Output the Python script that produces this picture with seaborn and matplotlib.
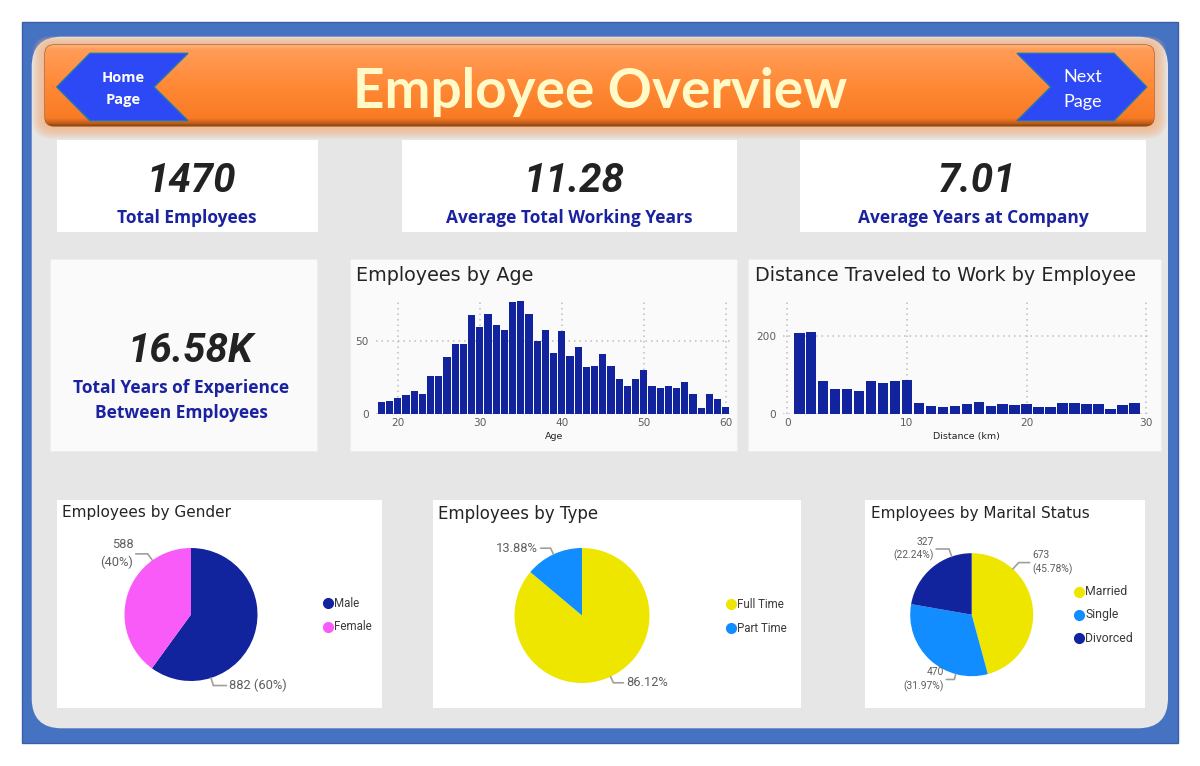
import numpy as np
import matplotlib
matplotlib.use("Agg")
import matplotlib.pyplot as plt
import seaborn as sns
from matplotlib.patches import FancyBboxPatch, Rectangle, Polygon
from matplotlib.colors import LinearSegmentedColormap

# ---------------- data ----------------
TITLE = "Employee Overview"
KPI_VALUES = ["1470", "11.28", "7.01", "16.58K"]
KPI_LABELS = ["Total Employees", "Average Total Working Years",
              "Average Years at Company",
              "Total Years of Experience\nBetween Employees"]

AGES = list(range(18, 61))
AGE_COUNTS = [8, 9, 11, 13, 16, 14, 26, 26, 39, 48, 48, 68, 60, 69, 61, 58,
              77, 78, 69, 50, 58, 42, 57, 40, 46, 32, 33, 41, 33, 24, 19, 24,
              30, 19, 18, 19, 18, 22, 14, 4, 14, 10, 5]
AGE_TICKS = [20, 30, 40, 50, 60]
AGE_YTICKS = [0, 50]

DISTANCES = list(range(1, 30))
DISTANCE_COUNTS = [208, 211, 84, 64, 65, 59, 84, 80, 85, 86, 29, 20, 19, 21,
                   26, 32, 20, 26, 22, 25, 18, 19, 27, 28, 25, 25, 12, 23, 27]
DIST_TICKS = [0, 10, 20, 30]
DIST_YTICKS = [0, 200]

GENDERS = ["Male", "Female"]
GENDER_COUNTS = [882, 588]
TYPES = ["Full Time", "Part Time"]
TYPE_SHARES = [86.12, 13.88]
MARITAL = ["Married", "Single", "Divorced"]
MARITAL_COUNTS = [673, 470, 327]

# ---------------- style ----------------
NAVY = "#12239E"
MAGENTA = "#F95BF8"
YELLOW = "#EFE600"
SKY = "#118DFF"
KPI_BLUE = "#1A22A0"
TXT = "#252423"
GRAY_TXT = "#605E5C"

sns.set_theme(style="white")
plt.rcParams["font.family"] = ["DejaVu Sans"]

W, H = 1200, 766
fig = plt.figure(figsize=(12, 7.66), dpi=100, facecolor="white")


def px_axes(x0, y0, x1, y1, **kw):
    return fig.add_axes([x0 / W, 1 - y1 / H, (x1 - x0) / W, (y1 - y0) / H], **kw)


bg = px_axes(0, 0, W, H)
bg.set_xlim(0, W)
bg.set_ylim(H, 0)
bg.axis("off")

# frame
bg.add_patch(Rectangle((21.7, 21.7), 1178 - 21.7, 743.3 - 21.7, fc="#4672C2", ec="#3A5FA8", lw=1, zorder=1))
bg.add_patch(FancyBboxPatch((31.7, 36.7), 1168 - 31.7, 728.3 - 36.7,
                            boxstyle="round,pad=0,rounding_size=30", fc="#E6E6E6", ec="none", zorder=2))

# header glow
for i in range(9, 0, -1):
    bg.add_patch(FancyBboxPatch((45 - i * 1.4, 45 - i * 1.0), 1109 + i * 2.8, 81 + i * 2.4,
                                boxstyle="round,pad=0,rounding_size=%g" % (10 + i),
                                fc="#F4B07E", ec="none", alpha=0.14, zorder=3))
header = FancyBboxPatch((45, 45), 1109, 81, boxstyle="round,pad=0,rounding_size=9",
                        fc="#FF8A35", ec="#9A4A12", lw=0.8, zorder=4)
bg.add_patch(header)
cmap = LinearSegmentedColormap.from_list(
    "hdr", [(0, "#FFB078"), (0.06, "#FF9C58"), (0.5, "#FF8936"), (0.9, "#F97B24"), (0.96, "#C8621C"), (1, "#8E4510")])
im = bg.imshow(np.linspace(0, 1, 256).reshape(-1, 1), extent=(45, 1154, 126, 45),
               cmap=cmap, aspect="auto", origin="upper", zorder=4.5)
im.set_clip_path(header)

# buttons
btn_kw = dict(fc="#2D49F5", ec="#1F78B4", lw=1, zorder=6)
bg.add_patch(Polygon([(56.7, 87), (90, 53.3), (188, 53.3), (154, 87), (188, 120.7), (90, 120.7)], **btn_kw))
bg.add_patch(Polygon([(1017, 53.3), (1114, 53.3), (1146.7, 87), (1114, 120.7), (1017, 120.7), (1050.7, 87)], **btn_kw))
bg.text(123, 78.3, "Home", ha="center", va="center", color="white", fontsize=10.5,
        fontweight="bold", family="Open Sans", zorder=7)
bg.text(123, 100, "Page", ha="center", va="center", color="white", fontsize=10.5,
        fontweight="bold", family="Open Sans", zorder=7)
bg.text(1082.7, 77.3, "Next", ha="center", va="center", color="white", fontsize=13,
        family="Lato", zorder=7)
bg.text(1082.7, 101.7, "Page", ha="center", va="center", color="white", fontsize=13,
        family="Lato", zorder=7)

bg.text(600, 108, TITLE, ha="center", va="baseline", fontsize=39.5, fontweight="bold",
        family="Lato", color="#FFFAC8", zorder=7)

# KPI cards
cards = [(56.7, 140, 317.7, 231.7), (402, 140, 737, 231.7), (800, 140, 1146, 231.7)]
for (x0, y0, x1, y1), val, lab in zip(cards, KPI_VALUES[:3], KPI_LABELS[:3]):
    bg.add_patch(Rectangle((x0, y0), x1 - x0, y1 - y0, fc="white", ec="none", zorder=5))
    cx = (x0 + x1) / 2
    bg.text(cx + 4, 191.7, val, ha="center", va="baseline", fontsize=29, fontweight="bold",
            fontstyle="italic", family="Roboto", color="#222222", zorder=6)
    bg.text(cx, 223, lab, ha="center", va="baseline", fontsize=12.5, fontweight="bold",
            family="Open Sans", color=KPI_BLUE, zorder=6)

# big KPI card
bg.add_patch(Rectangle((50, 259.3), 267.3, 191.7, fc="#FAFAFA", ec="#EDEDED", lw=0.6, zorder=5))
bg.text(190, 361.7, KPI_VALUES[3], ha="center", va="baseline", fontsize=29, fontweight="bold",
        fontstyle="italic", family="Roboto", color="#222222", zorder=6)
for i, line in enumerate(KPI_LABELS[3].split("\n")):
    bg.text(181, 393.3 + 25 * i, line, ha="center", va="baseline", fontsize=12.5,
            fontweight="bold", family="Open Sans", color=KPI_BLUE, zorder=6)

# chart panels
bg.add_patch(Rectangle((350, 259.3), 387, 191.7, fc="#FAFAFA", ec="#EDEDED", lw=0.6, zorder=5))
bg.add_patch(Rectangle((748, 259.3), 413, 191.7, fc="#FAFAFA", ec="#EDEDED", lw=0.6, zorder=5))
bg.text(356, 280.7, "Employees by Age", ha="left", va="baseline", fontsize=13.8, color=TXT, zorder=6)
bg.text(754.7, 280.7, "Distance Traveled to Work by Employee", ha="left", va="baseline",
        fontsize=13.8, color=TXT, zorder=6)

pie_panels = [(56.7, 500, 382, 708.3), (433, 500, 800.7, 708.3), (865, 500, 1145, 708.3)]
for x0, y0, x1, y1 in pie_panels:
    bg.add_patch(Rectangle((x0, y0), x1 - x0, y1 - y0, fc="white", ec="none", zorder=5))
bg.text(61.7, 516.7, "Employees by Gender", ha="left", va="baseline", fontsize=11, color=TXT, zorder=6)
bg.text(438.3, 519, "Employees by Type", ha="left", va="baseline", fontsize=12, color=TXT, zorder=6)
bg.text(870.7, 517.7, "Employees by Marital Status", ha="left", va="baseline", fontsize=11, color=TXT, zorder=6)


# ---------------- histograms ----------------
def style_hist(ax, xlim, ylim, xticks, yticks, xlabel):
    ax.set_facecolor("none")
    ax.set_xlim(*xlim)
    ax.set_ylim(*ylim)
    ax.set_xticks(xticks)
    ax.set_yticks(yticks)
    ax.set_axisbelow(True)
    ax.grid(True, linestyle=(0, (1, 2.6)), color="#BEBEBE", lw=1.1)
    sns.despine(ax=ax, left=True, bottom=True)
    ax.tick_params(axis="both", length=0, labelsize=7.6, labelcolor=GRAY_TXT)
    ax.tick_params(axis="x", pad=3)
    ax.tick_params(axis="y", pad=5)
    ax.set_xlabel(xlabel, fontsize=6.8, color=TXT, labelpad=3)
    ax.set_ylabel("")


ax_age = px_axes(375.6, 299.7, 732.3, 414)
sns.histplot(x=AGES, weights=AGE_COUNTS, discrete=True, shrink=0.88, color=NAVY,
             alpha=1, linewidth=0, ax=ax_age)
style_hist(ax_age, (17.3, 60.8), (0, 78.6), AGE_TICKS, AGE_YTICKS, "Age")

ax_dist = px_axes(783.1, 299.7, 1150.6, 414)
sns.histplot(x=DISTANCES, weights=DISTANCE_COUNTS, discrete=True, shrink=0.88, color=NAVY,
             alpha=1, linewidth=0, ax=ax_dist)
style_hist(ax_dist, (-0.35, 30.35), (0, 293), DIST_TICKS, DIST_YTICKS, "Distance (km)")


# ---------------- pies ----------------
def draw_pie(cx, cy, r, values, colors):
    ax = px_axes(cx - r, cy - r, cx + r, cy + r)
    ax.pie(values, colors=colors, startangle=90, counterclock=False,
           wedgeprops=dict(linewidth=0))
    ax.set_xlim(-1, 1)
    ax.set_ylim(-1, 1)
    ax.set_aspect("equal")
    ax.set_facecolor("none")
    return ax


PIES = [
    dict(c=(191, 614.5), r=66.5, vals=GENDER_COUNTS, cols=[NAVY, MAGENTA]),
    dict(c=(582, 615.5), r=67.5, vals=TYPE_SHARES, cols=[YELLOW, SKY]),
    dict(c=(971.7, 614.7), r=61.5, vals=MARITAL_COUNTS, cols=[YELLOW, SKY, NAVY]),
]
for p in PIES:
    draw_pie(p["c"][0], p["c"][1], p["r"], p["vals"], p["cols"])

ov = px_axes(0, 0, W, H, facecolor="none")
ov.set_xlim(0, W)
ov.set_ylim(H, 0)
ov.axis("off")


def pie_label(cx, cy, r, ang, text, side, elbow, length, fs, ls):
    a = np.radians(ang)
    x0, y0 = cx + r * np.sin(a), cy - r * np.cos(a)
    x1, y1 = cx + r * elbow * np.sin(a), cy - r * elbow * np.cos(a)
    x2 = x1 + side * length
    ov.plot([x0, x1, x2], [y0, y1, y1], color="#A19F9D", lw=1.2, solid_joinstyle="miter")
    ov.text(x2 + side * 2.5, y1, text, ha="left" if side > 0 else "right", va="center",
            multialignment="left" if side > 0 else "right", fontsize=fs, family="Roboto",
            color=GRAY_TXT, linespacing=ls)


g_tot = sum(GENDER_COUNTS)
g_lab = [f"{v} ({v / g_tot:.0%})" for v in GENDER_COUNTS]
pie_label(191, 614.5, 66.5, 162.5, g_lab[0], +1, 1.12, 13, 9.3, 1.4)
pie_label(191, 614.5, 66.5, 324.5, g_lab[1].replace(" ", "\n"), -1, 1.12, 12, 9.3, 1.45)

pie_label(582, 615.5, 67.5, 155, f"{TYPE_SHARES[0]:.2f}%", +1, 1.1, 10, 9.3, 1.2)
pie_label(582, 615.5, 67.5, 335, f"{TYPE_SHARES[1]:.2f}%", -1, 1.1, 10, 9.3, 1.2)

m_tot = sum(MARITAL_COUNTS)
m_lab = [f"{v}\n({v / m_tot * 100:.2f}%)" for v in MARITAL_COUNTS]
pie_label(971.7, 614.7, 61.5, 42, m_lab[0], +1, 1.14, 11, 7.4, 1.35)
pie_label(971.7, 614.7, 61.5, 195, m_lab[1], -1, 1.09, 8, 7.4, 1.35)
pie_label(971.7, 614.7, 61.5, 341, m_lab[2], -1, 1.13, 13, 7.4, 1.35)


def legend(x, y0, dy, names, colors, fs):
    for i, (n, c) in enumerate(zip(names, colors)):
        y = y0 + i * dy
        ov.plot([x], [y], "o", ms=7, color=c, mec=c)
        ov.text(x + 6, y, n, ha="left", va="center", fontsize=fs, family="Roboto", color="#3B3A39")


legend(327.7, 603.3, 23.4, GENDERS, [NAVY, MAGENTA], 8.3)
legend(731, 604.3, 24, TYPES, [YELLOW, SKY], 8.3)
legend(1079.3, 591.7, 23.2, MARITAL, [YELLOW, SKY, NAVY], 8.8)

fig.savefig("out.png", dpi=100, facecolor="white")
